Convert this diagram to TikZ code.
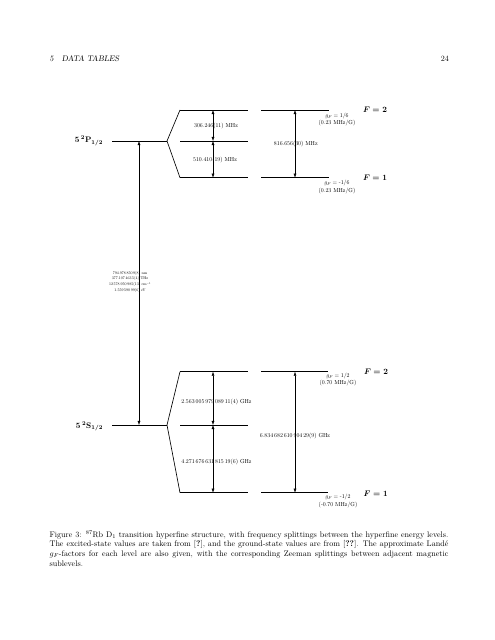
\documentclass[tikz,border=0pt]{standalone}
\usepackage{amsmath,amssymb}
\usetikzlibrary{arrows.meta, positioning, calc}

\begin{document}
\begin{tikzpicture}[
        x=1.2364pt, y=-1.2364pt,
        >={Latex[length=5pt,width=3.6pt]},
        level/.style={line width=0.8pt},
        split/.style={<->, line width=0.5pt},
        freq/.style={inner sep=0pt, scale=0.72, transform shape},
        trans/.style={inner sep=0pt, align=center, font=\fontsize{10}{14.3}\selectfont, scale=0.49, transform shape},
        gfac/.style={inner sep=0pt, align=center, font=\fontsize{10}{13}\selectfont, scale=0.72, transform shape},
        flab/.style={font=\boldmath, inner sep=0pt},
        term/.style={font=\boldmath, inner sep=0pt, anchor=east}
    ]
    \useasboundingbox (0,0) rectangle (495,640);

    % page header
    \node[font=\slshape, anchor=base west, inner sep=0pt] (head) at (49.5,62) {5\quad DATA TABLES};
    \node[anchor=base east, inner sep=0pt] (page) at (449,62) {24};

    % arrow columns
    \coordinate (xt) at (139,0);
    \coordinate (xs) at (213,0);
    \coordinate (xl) at (295,0);

    % excited state 5^2P_{1/2}
    \coordinate (Pfine) at (112,141);
    \coordinate (Pc) at (167,141);
    \coordinate (P2a) at (180,110);
    \coordinate (P2b) at (248,110);
    \coordinate (P2c) at (261,110);
    \coordinate (P2d) at (329,110);
    \coordinate (P0a) at (180,141);
    \coordinate (P0b) at (248,141);
    \coordinate (P1a) at (180,177.7);
    \coordinate (P1b) at (248,177.7);
    \coordinate (P1c) at (261,177.7);
    \coordinate (P1d) at (329,177.7);

    \draw[level] (Pfine) -- (Pc);
    \draw[level] (P2a) -- (Pc) -- (P1a);
    \draw[level] (P2a) -- (P2b);
    \draw[level] (P2c) -- (P2d);
    \draw[level] (P0a) -- (P0b);
    \draw[level] (P1a) -- (P1b);
    \draw[level] (P1c) -- (P1d);

    \node[term] (Pterm) at ($(Pfine)+(-9,0)$) {$5\,^2\mathrm{P}_{1/2}$};

    \draw[split] (P2a -| xs) -- (P0a -| xs);
    \draw[split] (P0a -| xs) -- (P1a -| xs);
    \draw[split] (P2c -| xl) -- (P1c -| xl);
    \node[freq] (fP2) at ($(P2a -| xs)!.5!(P0a -| xs)+(3,1)$) {306.246(11) MHz};
    \node[freq] (fP1) at ($(P0a -| xs)!.5!(P1a -| xs)+(2,0.6)$) {510.410(19) MHz};
    \node[freq] (fP) at ($(P2c -| xl)!.5!(P1c -| xl)+(0.8,0)$) {816.656(30) MHz};

    \node[gfac] (gP2) at ($(P2d)+(8,9.5)$) {$g_F = 1/6$\\(0.23 MHz/G)};
    \node[gfac] (gP1) at ($(P1d)+(8,9.5)$) {$g_F = \mbox{-1/6}$\\(0.23 MHz/G)};
    \node[flab] (FP2) at ($(P2d)+(46,0)$) {$F = 2$};
    \node[flab] (FP1) at ($(P1d)+(46,0.3)$) {$F = 1$};

    % ground state 5^2S_{1/2}
    \coordinate (Sfine) at (112,425);
    \coordinate (Sc) at (167,425);
    \coordinate (S2a) at (180,371.7);
    \coordinate (S2b) at (248,371.7);
    \coordinate (S2c) at (261,371.7);
    \coordinate (S2d) at (328,371.7);
    \coordinate (S0a) at (180,425);
    \coordinate (S0b) at (248,425);
    \coordinate (S1a) at (180,492.7);
    \coordinate (S1b) at (248,492.7);
    \coordinate (S1c) at (261,492.7);
    \coordinate (S1d) at (328,492.7);

    \draw[level] (Sfine) -- (Sc);
    \draw[level] (S2a) -- (Sc) -- (S1a);
    \draw[level] (S2a) -- (S2b);
    \draw[level] (S2c) -- (S2d);
    \draw[level] (S0a) -- (S0b);
    \draw[level] (S1a) -- (S1b);
    \draw[level] (S1c) -- (S1d);

    \node[term] (Sterm) at ($(Sfine)+(-9,1.5)$) {$5\,^2\mathrm{S}_{1/2}$};

    \draw[split] (S2a -| xs) -- (S0a -| xs);
    \draw[split] (S0a -| xs) -- (S1a -| xs);
    \draw[split] (S2c -| xl) -- (S1c -| xl);
    \node[freq] (fS2) at ($(S2a -| xs)!.5!(S0a -| xs)+(3.5,4)$) {2.563\,005\,979\,089\,11(4) GHz};
    \node[freq] (fS1) at ($(S0a -| xs)!.5!(S1a -| xs)+(3.5,3.4)$) {4.271\,676\,631\,815\,19(6) GHz};
    \node[freq] (fS) at ($(S2c -| xl)!.5!(S1c -| xl)+(0,3.5)$) {6.834\,682\,610\,904\,29(9) GHz};

    \node[gfac] (gS2) at ($(S2d)+(10,7.8)$) {$g_F = 1/2$\\(0.70 MHz/G)};
    \node[gfac] (gS1) at ($(S1d)+(10,8.1)$) {$g_F = \mbox{-1/2}$\\(-0.70 MHz/G)};
    \node[flab] (FS2) at ($(S2d)+(48,0)$) {$F = 2$};
    \node[flab] (FS1) at ($(S1d)+(47.7,1.3)$) {$F = 1$};

    % D1 transition
    \coordinate (Pd1) at (139,141);
    \coordinate (Sd1) at (139,425);
    \coordinate (D1c) at (130,281.7);
    \draw[split] (Pd1) -- (Sd1);
    \node[trans] (D1) at (D1c) {794.978\,850\,9(8) nm\\377.107\,463\,5(4) THz\\12\,578.950\,985(13) cm$^{-1}$\\1.559\,590\,99(6) eV};

    % caption
    \node[anchor=north west, inner sep=0pt, text width=493pt, align=justify] (cap) at (49.5,530.5) {Figure 3: $^{87}$Rb D$_1$ transition hyperfine structure, with frequency splittings between the hyperfine energy levels. The excited-state values are taken from [\textbf{?}], and the ground-state values are from [\textbf{??}]. The approximate Land\'e $g_F$-factors for each level are also given, with the corresponding Zeeman splittings between adjacent magnetic sublevels.};
\end{tikzpicture}
\end{document}
